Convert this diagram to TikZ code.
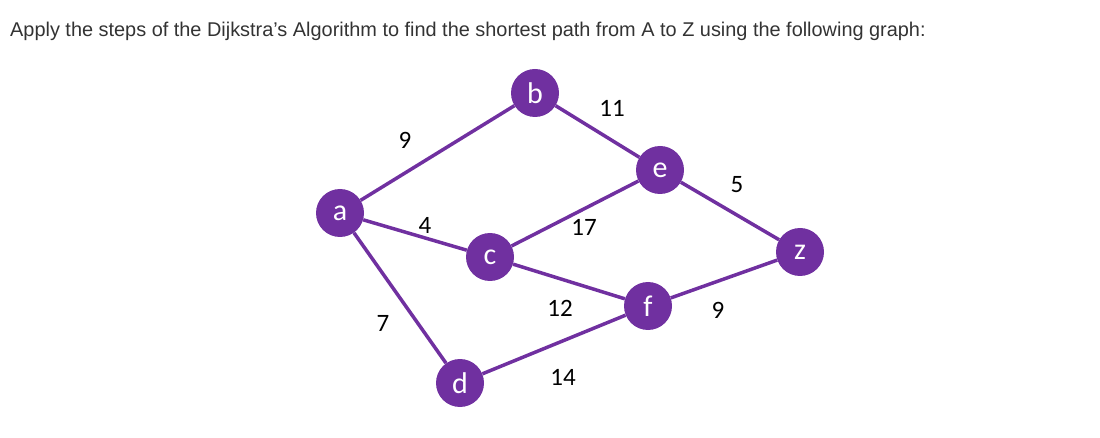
\documentclass[tikz,border=0pt]{standalone}
\usepackage{fontspec}
\setmainfont{Carlito}
\newfontfamily\titlefont{Liberation Sans}
\usetikzlibrary{positioning}
\definecolor{dijpurple}{HTML}{7030A0}
\definecolor{titlegray}{HTML}{333333}

\begin{document}
\begin{tikzpicture}[x=1pt, y=-1pt,
    vtx/.style={circle, fill=dijpurple, text=white, minimum size=48pt, inner sep=0pt, font=\fontsize{30}{30}\selectfont},
    wt/.style={font=\fontsize{25}{25}\selectfont},
    edge/.style={dijpurple, line width=3.5pt}]
    \useasboundingbox (0,0) rectangle (1100,438);
    \node[anchor=base west, inner sep=0pt, text=titlegray, font=\titlefont\fontsize{19.9}{22}\selectfont] (title) at (10,37) {Apply the steps of the Dijkstra’s Algorithm to find the shortest path from A to Z using the following graph:};

    \node[vtx] (a) at (340,213) {a};
    \node[vtx] (b) at (535,93) {b};
    \node[vtx] (c) at (490,257) {c};
    \node[vtx] (d) at (460,383) {d};
    \node[vtx] (e) at (660,170) {e};
    \node[vtx] (f) at (648,306) {f};
    \node[vtx] (z) at (800,252) {z};

    \draw[edge] (a) -- (b);
    \draw[edge] (a) -- (c);
    \draw[edge] (a) -- (d);
    \draw[edge] (b) -- (e);
    \draw[edge] (c) -- (e);
    \draw[edge] (c) -- (f);
    \draw[edge] (d) -- (f);
    \draw[edge] (e) -- (z);
    \draw[edge] (f) -- (z);

    \node[wt] (wab) at (405,140) {9};
    \node[wt] (wac) at (425,225) {4};
    \node[wt] (wad) at (383,323) {7};
    \node[wt] (wbe) at (612,108) {11};
    \node[wt] (wce) at (584,227) {17};
    \node[wt] (wez) at (737,185) {5};
    \node[wt] (wcf) at (560,308) {12};
    \node[wt] (wfz) at (718,310) {9};
    \node[wt] (wdf) at (563,377) {14};
\end{tikzpicture}
\end{document}
